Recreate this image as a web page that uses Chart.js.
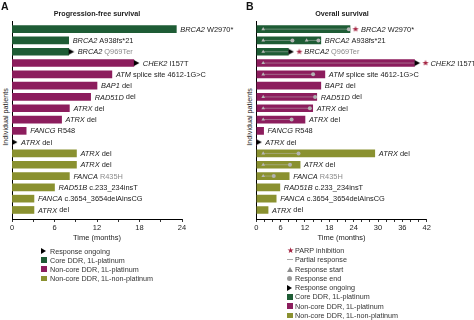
<!DOCTYPE html>
<html>
<head>
<meta charset="utf-8">
<script src="https://cdn.jsdelivr.net/npm/chart.js"></script>
<style>
  body { margin: 0; background: #fff; font-family: "Liberation Sans", Arial, sans-serif; }
  #wrap { position: relative; width: 474px; height: 320px; overflow: hidden; }
  .abs { position: absolute; white-space: nowrap; transform: translateZ(0); }
  .letter { font-weight: bold; font-size: 10.5px; color: #111; }
  .ptitle { font-weight: bold; font-size: 7.2px; color: #222; transform: translateX(-50%) translateZ(0); }
  .ytitle { font-size: 7.2px; color: #222; transform: translate(-50%, -50%) rotate(-90deg); }
  .leg { font-size: 7.2px; color: #333; line-height: 9px; }
  canvas { position: absolute; top: 0; }
</style>
</head>
<body>
<div id="wrap">
  <div class="abs letter" style="left:1px;top:0px;">A</div>
  <div class="abs letter" style="left:246px;top:0px;">B</div>
  <div class="abs ptitle" style="left:97px;top:9px;">Progression-free survival</div>
  <div class="abs ptitle" style="left:342px;top:9px;">Overall survival</div>
  <div class="abs ytitle" style="left:5px;top:117px;">Individual patients</div>
  <div class="abs ytitle" style="left:249px;top:117px;">Individual patients</div>
  <canvas id="pfs" width="237" height="242" style="left:0px;"></canvas>
  <canvas id="os" width="237" height="242" style="left:237px;"></canvas>
</div>

<script>
// one row per patient, top to bottom
var genes = ['BRCA2', 'BRCA2', 'BRCA2', 'CHEK2', 'ATM', 'BAP1', 'RAD51D', 'ATRX', 'ATRX', 'FANCG',
             'ATRX', 'ATRX', 'ATRX', 'FANCA', 'RAD51B', 'FANCA', 'ATRX'];
var variants = ['W2970*', 'A938fs*21', 'Q969Ter', 'I157T', 'splice site 4612-1G>C', 'del', 'del', 'del', 'del', 'R548',
                'del', 'del', 'del', 'R435H', 'c.233_234insT', 'c.3654_3654delAinsCG', 'del'];
var grayVariant = [2, 13];
// 0 = core DDR 1L-platinum, 1 = non-core 1L-platinum, 2 = non-core 1L-non-platinum
var groups = [0, 0, 0, 1, 1, 1, 1, 1, 1, 1, 1, 2, 2, 2, 2, 2, 2];

// months
var pfs = [23.2, 8.0, 8.0, 17.2, 14.1, 12.0, 11.1, 8.1, 7.0, 2.0, 0, 9.1, 9.1, 8.1, 6.0, 3.1, 3.1];
var pfsOngoing = [2, 3, 10];
var os = [23.1, 15.9, 7.9, 39.0, 16.9, 15.9, 14.9, 13.9, 12.0, 1.8, 0, 29.2, 10.8, 8.1, 5.8, 4.9, 2.9];
var osOngoing = [2, 3, 10];
var parp = [0, 2, 3];

var startRow = [0, 1, 1, 2, 3, 4, 6, 7, 8, 11, 12, 13];
var startTime = [1.7, 1.7, 12.4, 1.7, 1.7, 1.7, 1.7, 1.7, 1.7, 1.7, 1.7, 1.7];
var endRow = [0, 1, 1, 4, 6, 7, 8, 11, 12, 13];
var endTime = [22.8, 8.9, 15.3, 14.0, 14.5, 13.2, 8.7, 10.4, 8.3, 4.3];
// partial response segments
var prRow = [0, 1, 1, 2, 3, 4, 6, 7, 8, 11, 12, 13];
var prFrom = [1.7, 1.7, 12.4, 1.7, 1.7, 1.7, 1.7, 1.7, 1.7, 1.7, 1.7, 1.7];
var prTo = [22.8, 8.9, 15.3, 7.9, 39.0, 14.0, 14.5, 13.2, 8.7, 10.4, 8.3, 4.3];

var groupColors = ['#1e5c35', '#8c1d5d', '#8a9130'];
var starColor = '#a3213f';

function arrowImg() {
  var c = document.createElement('canvas');
  c.width = 12; c.height = 8;
  var g = c.getContext('2d');
  g.fillStyle = '#000';
  g.beginPath(); g.moveTo(6, 1); g.lineTo(11.5, 4); g.lineTo(6, 7); g.closePath(); g.fill();
  return c;
}
function starImg(off) {
  var w = Math.ceil((off + 4) * 2);
  var c = document.createElement('canvas');
  c.width = w; c.height = 8;
  var g = c.getContext('2d');
  var cx = w / 2 + off, cy = 4;
  g.fillStyle = starColor;
  g.beginPath();
  for (var k = 0; k < 10; k++) {
    var r = k % 2 === 0 ? 3.2 : 1.35;
    var a = -Math.PI / 2 + k * Math.PI / 5;
    g.lineTo(cx + r * Math.cos(a), cy + r * Math.sin(a));
  }
  g.closePath(); g.fill();
  return c;
}
var arrow = arrowImg();
var starNear = starImg(5.5);
var starFar = starImg(11);

var barLabels = {
  id: 'barLabels',
  afterDatasetsDraw: function(chart, args, opts) {
    var ctx = chart.ctx, x = chart.scales.x, y = chart.scales.y;
    ctx.save();
    ctx.textBaseline = 'middle';
    opts.values.forEach(function(v, i) {
      var px = x.getPixelForValue(v) + 4;
      if (opts.ongoing.indexOf(i) >= 0) px += 5;
      if (opts.parp.indexOf(i) >= 0) px += 7;
      var py = y.getPixelForValue(i) + 0.5;
      ctx.font = 'italic 7.4px "Liberation Sans"';
      ctx.fillStyle = '#1a1a1a';
      ctx.fillText(genes[i], px, py);
      px += ctx.measureText(genes[i] + ' ').width;
      ctx.font = '7.4px "Liberation Sans"';
      ctx.fillStyle = grayVariant.indexOf(i) >= 0 ? '#8a8a8a' : '#1a1a1a';
      ctx.fillText(variants[i], px, py);
    });
    ctx.restore();
  }
};

function makeChart(id, values, ongoing, parpRows, xMax, step, padLeft, padRight, withResponse) {
  var datasets = [{
    type: 'bar',
    data: values.map(function(v, i) { return { x: v, y: i }; }),
    backgroundColor: values.map(function(v, i) { return groupColors[groups[i]]; }),
    barThickness: 7,
    order: 5
  }];
  if (withResponse) {
    prRow.forEach(function(r, k) {
      datasets.push({
        type: 'line',
        data: [{ x: prFrom[k], y: r }, { x: prTo[k], y: r }],
        borderColor: 'rgba(190,190,190,0.6)',
        borderWidth: 0.8,
        pointRadius: 0,
        order: 3
      });
    });
    datasets.push({
      type: 'line', showLine: false,
      data: startRow.map(function(r, k) { return { x: startTime[k], y: r }; }),
      pointStyle: 'triangle', pointRadius: 2.1,
      backgroundColor: '#b8b8b8', borderWidth: 0, order: 1
    });
    datasets.push({
      type: 'line', showLine: false,
      data: endRow.map(function(r, k) { return { x: endTime[k], y: r }; }),
      pointStyle: 'circle', pointRadius: 2,
      backgroundColor: '#b3b3b3', borderWidth: 0, order: 1
    });
  }
  datasets.push({
    type: 'line', showLine: false, clip: false,
    data: ongoing.map(function(r) { return { x: values[r], y: r }; }),
    pointStyle: arrow, order: 0
  });
  if (parpRows.length) {
    datasets.push({
      type: 'line', showLine: false, clip: false,
      data: parpRows.map(function(r) { return { x: values[r], y: r }; }),
      pointStyle: function(c) { return ongoing.indexOf(c.raw.y) >= 0 ? starFar : starNear; },
      order: 0
    });
  }

  return new Chart(document.getElementById(id).getContext('2d'), {
    type: 'bar',
    data: { datasets: datasets },
    plugins: [barLabels],
    options: {
      indexAxis: 'y',
      responsive: false,
      animation: false,
      events: [],
      layout: { padding: { left: padLeft, right: padRight, top: 21, bottom: 0 } },
      scales: {
        x: {
          type: 'linear', min: 0, max: xMax, offset: false,
          ticks: {
            stepSize: step, autoSkip: false, maxRotation: 0, padding: 1,
            color: '#222', font: { family: 'Liberation Sans', size: 7.5 },
            callback: function(v) { return v % 6 === 0 ? v : ''; }
          },
          grid: { display: true, drawOnChartArea: false, drawTicks: true, tickLength: 3, color: '#000', lineWidth: 0.8 },
          border: { color: '#000', width: 1 },
          title: { display: true, text: 'Time (months)', color: '#222', padding: 0,
                   font: { family: 'Liberation Sans', size: 7.5 } },
          afterFit: function(s) { s.height = 23; }
        },
        y: {
          type: 'linear', reverse: true, min: -0.72, max: 16.8, offset: false,
          ticks: { display: false },
          grid: { display: false, offset: false },
          border: { color: '#000', width: 1 },
          afterFit: function(s) { s.width = 0; }
        }
      },
      plugins: {
        legend: { display: false },
        tooltip: { enabled: false },
        barLabels: { values: values, ongoing: ongoing, parp: parpRows }
      }
    }
  });
}

makeChart('pfs', pfs, pfsOngoing, [], 24, 3, 12, 55, false);
makeChart('os', os, osOngoing, parp, 42, 2, 19.3, 47.3, true);

// legends
var legendA = [['arrow', 'Response ongoing'], ['sq0', 'Core DDR, 1L-platinum'],
               ['sq1', 'Non-core DDR, 1L-platinum'], ['sq2', 'Non-core DDR, 1L-non-platinum']];
var legendB = [['star', 'PARP inhibition'], ['line', 'Partial response'], ['tri', 'Response start'],
               ['dot', 'Response end'], ['arrow', 'Response ongoing'], ['sq0', 'Core DDR, 1L-platinum'],
               ['sq1', 'Non-core DDR, 1L-platinum'], ['sq2', 'Non-core DDR, 1L-non-platinum']];

function icon(kind) {
  if (kind === 'arrow') return '<span style="display:inline-block;width:0;height:0;border-left:5px solid #000;border-top:3px solid transparent;border-bottom:3px solid transparent;"></span>';
  if (kind === 'star') return '<span style="color:' + starColor + ';font-size:8px;font-family:\'DejaVu Sans\';">&#9733;</span>';
  if (kind === 'line') return '<span style="display:inline-block;width:6px;height:1px;background:#aaa;vertical-align:middle;"></span>';
  if (kind === 'tri') return '<span style="display:inline-block;width:0;height:0;border-bottom:5px solid #8e8e8e;border-left:3px solid transparent;border-right:3px solid transparent;"></span>';
  if (kind === 'dot') return '<span style="display:inline-block;width:5px;height:5px;border-radius:50%;background:#999;"></span>';
  var g = +kind.slice(2);
  return '<span style="display:inline-block;width:5.5px;height:5.5px;background:' + groupColors[g] + ';"></span>';
}
function buildLegend(items, iconX, textX, top, stepY) {
  var wrap = document.getElementById('wrap');
  items.forEach(function(it, k) {
    var cy = top + k * stepY;
    var ic = document.createElement('div');
    ic.className = 'abs';
    ic.style.left = iconX + 'px';
    ic.style.top = (cy - 4.5) + 'px';
    ic.style.height = '9px';
    ic.style.display = 'flex';
    ic.style.alignItems = 'center';
    ic.innerHTML = icon(it[0]);
    wrap.appendChild(ic);
    var tx = document.createElement('div');
    tx.className = 'abs leg';
    tx.style.left = textX + 'px';
    tx.style.top = (cy - 4.5) + 'px';
    tx.textContent = it[1];
    wrap.appendChild(tx);
  });
}
buildLegend(legendA, 41, 50, 251, 9.1);
buildLegend(legendB, 287, 295, 250.7, 9.23);
</script>
</body>
</html>
